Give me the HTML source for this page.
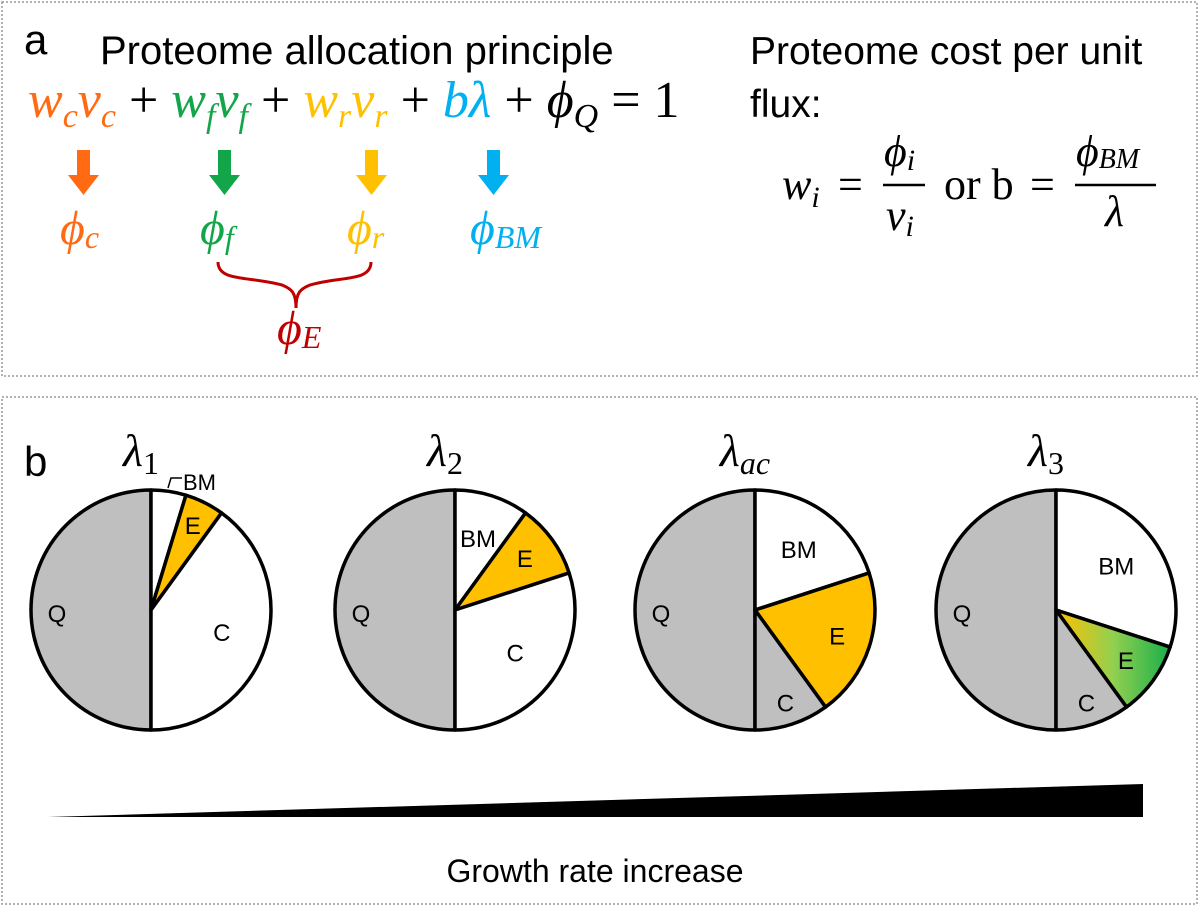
<!DOCTYPE html>
<html><head><meta charset="utf-8"><style>
html,body{margin:0;padding:0;background:#fff}
svg{display:block}
.sans{font-family:"Liberation Sans",sans-serif}
.math{font-family:"Liberation Serif",serif;font-style:italic}
</style></head><body>
<svg id="fig" width="1200" height="906" viewBox="0 0 1200 906" xmlns="http://www.w3.org/2000/svg">
<defs>
<linearGradient id="eg" x1="0" y1="0" x2="1" y2="0"><stop offset="0" stop-color="#ffc000"/><stop offset="0.5" stop-color="#92d050"/><stop offset="1" stop-color="#1aaf4a"/></linearGradient>
</defs>
<rect x="2" y="2" width="1195" height="374" fill="none" stroke="#999" stroke-width="1.5" stroke-dasharray="2,2"/>
<rect x="2" y="397" width="1195" height="507" fill="none" stroke="#999" stroke-width="1.5" stroke-dasharray="2,2"/>
<text x="24" y="54" class="sans" font-size="42">a</text>
<text x="100" y="64" class="sans" font-size="40">Proteome allocation principle</text>
<g class="math" font-size="52">
<text x="28" y="117"><tspan fill="#ff6a13">w<tspan font-size="34" dy="10">c</tspan><tspan dy="-10">v</tspan><tspan font-size="34" dy="10">c</tspan></tspan><tspan dy="-10" font-style="normal"> + </tspan><tspan fill="#13a54a">w<tspan font-size="34" dy="10">f</tspan><tspan dy="-10">v</tspan><tspan font-size="34" dy="10">f</tspan></tspan><tspan dy="-10" font-style="normal"> + </tspan><tspan fill="#ffc000">w<tspan font-size="34" dy="10">r</tspan><tspan dy="-10">v</tspan><tspan font-size="34" dy="10">r</tspan></tspan><tspan dy="-10" font-style="normal"> + </tspan><tspan fill="#00b0f0">bλ</tspan><tspan font-style="normal"> + </tspan>ϕ<tspan font-size="34" dy="10">Q</tspan><tspan dy="-10" font-style="normal"> = 1</tspan></text>
</g>
<g>
<polygon points="77,150 90,150 90,175 99,175 83.5,195 68,175 77,175" fill="#ff6a13"/>
<polygon points="218,150 231,150 231,175 240,175 224.5,195 209,175 218,175" fill="#13a54a"/>
<polygon points="365,150 378,150 378,175 387,175 371.5,195 356,175 365,175" fill="#ffc000"/>
<polygon points="487,150 500,150 500,175 509,175 493.5,195 478,175 487,175" fill="#00b0f0"/>
</g>
<g class="math" font-size="48">
<text x="60" y="244" fill="#ff6a13">ϕ<tspan font-size="32" dy="4">c</tspan></text>
<text x="200" y="244" fill="#13a54a">ϕ<tspan font-size="32" dy="4">f</tspan></text>
<text x="347" y="244" fill="#ffc000">ϕ<tspan font-size="32" dy="4">r</tspan></text>
<text x="470" y="244" fill="#00b0f0">ϕ<tspan font-size="32" dy="4">BM</tspan></text>
<text x="277" y="344" fill="#c00000">ϕ<tspan font-size="32" dy="4">E</tspan></text>
</g>
<path d="M218,262 C218,282 250,276 282,285 C292,289 296,293 296,308 M371,262 C371,282 340,276 310,285 C300,289 296,293 296,308" fill="none" stroke="#c00000" stroke-width="3"/>
<text x="750" y="64" class="sans" font-size="39">Proteome cost per unit</text>
<text x="750" y="117" class="sans" font-size="39">flux:</text>
<g class="math" font-size="44">
<text x="782" y="199">w<tspan font-size="30" dy="8">i</tspan></text>
<text x="838" y="199" font-style="normal">=</text>
<line x1="883" y1="185" x2="925" y2="185" stroke="#000" stroke-width="2.5"/>
<text x="884" y="166">ϕ<tspan font-size="30" dy="4">i</tspan></text>
<text x="886" y="230">v<tspan font-size="30" dy="6">i</tspan></text>
<text x="944" y="199" font-style="normal">or b</text>
<text x="1030" y="199" font-style="normal">=</text>
<line x1="1075" y1="185" x2="1156" y2="185" stroke="#000" stroke-width="2.5"/>
<text x="1076" y="166">ϕ<tspan font-size="28" dy="2">BM</tspan></text>
<text x="1105" y="226">λ</text>
</g>
<text x="24" y="476" class="sans" font-size="42">b</text>
<g id="pies"></g>
<polygon points="48,817 1143,784 1143,817" fill="#000"/>
<text x="595" y="882" text-anchor="middle" class="sans" font-size="32">Growth rate increase</text>
<path d="M168,488 L171,478 L182,478" fill="none" stroke="#000" stroke-width="1.5"/>
<text x="183" y="490" class="sans" font-size="22">BM</text>
</svg>
<script>
// slice shares (percent), clockwise from top: BM, E, C, Q
const pieTitles = ["1","2","ac","3"];
const bmShare = [4.7, 10, 20, 30];
const eShare = [5.3, 10, 20, 10];
const cShare = [40, 30, 10, 10];
const qShare = [50, 50, 50, 50];
const NS = "http://www.w3.org/2000/svg";
const centersX = [151, 455, 755, 1056], cy = 610, R = 120;
const g = document.getElementById("pies");
function pt(cx, frac){const a = frac*2*Math.PI; return [cx + R*Math.sin(a), cy - R*Math.cos(a)];}
function slice(cx, f0, f1, fill, name){
  const p = document.createElementNS(NS,"path");
  const a = pt(cx,f0), b = pt(cx,f1);
  const large = (f1-f0) > 0.5 ? 1 : 0;
  p.setAttribute("d", `M${cx},${cy} L${a[0]},${a[1]} A${R},${R} 0 ${large} 1 ${b[0]},${b[1]} Z`);
  p.setAttribute("fill", fill); p.setAttribute("stroke","#000"); p.setAttribute("stroke-width","3.5"); p.setAttribute("stroke-linejoin","round");
  
  
  g.appendChild(p);
}
function label(x, y, t, name, size){
  const e = document.createElementNS(NS,"text");
  e.setAttribute("x",x); e.setAttribute("y",y); e.setAttribute("text-anchor","middle");
  e.setAttribute("class","sans"); e.setAttribute("font-size", size||24); e.textContent = t;
  
  
  g.appendChild(e);
}
for (let i=0;i<4;i++){
  const cx = centersX[i];
  const tot = bmShare[i]+eShare[i]+cShare[i]+qShare[i];
  const fBM = bmShare[i]/tot, fE = eShare[i]/tot, fC = cShare[i]/tot;
  const b1 = fBM, b2 = fBM+fE, b3 = fBM+fE+fC;
  const cFill = i >= 2 ? "#bfbfbf" : "#fff";
  const eFill = i === 3 ? "url(#eg)" : "#ffc000";
  slice(cx, b3, 1, "#bfbfbf", "slice-q-"+(i+1));
  slice(cx, 0, b1, "#fff", "slice-bm-"+(i+1));
  slice(cx, b1, b2, eFill, "slice-e-"+(i+1));
  slice(cx, b2, b3, cFill, "slice-c-"+(i+1));
  const mid = (f0,f1,r)=>{const a=(f0+f1)*Math.PI; return [cx + r*R*Math.sin(a), cy - r*R*Math.cos(a) + 8];};
  label(cx-94, cy+12, "Q", "label-q-"+(i+1));
  if (i>0){ const m = mid(0,b1,0.62); label(m[0], m[1], "BM", "label-bm-"+(i+1)); }
  const me = mid(b1,b2, i===0?0.78:0.72); label(me[0], me[1], "E", "label-e-"+(i+1));
  const mc = mid(b2,b3, i>=2?0.82:0.62); label(mc[0], mc[1], "C", "label-c-"+(i+1));
  const t = document.createElementNS(NS,"text");
  t.setAttribute("x", cx - 10); t.setAttribute("y", 466); t.setAttribute("text-anchor","middle");
  t.setAttribute("class","math"); t.setAttribute("font-size","46");
  t.innerHTML = "λ<tspan font-size='32' dy='8' font-style='" + (pieTitles[i]==="ac"?"italic":"normal") + "'>" + pieTitles[i] + "</tspan>";
  
  
  g.appendChild(t);
}
</script>
</body></html>
